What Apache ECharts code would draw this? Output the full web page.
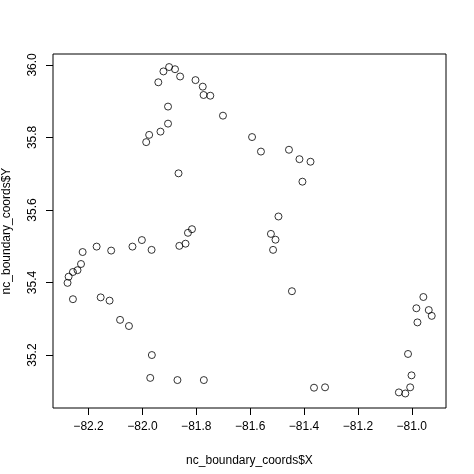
<!DOCTYPE html>
<html>
<head>
<meta charset="utf-8">
<script src="https://cdn.jsdelivr.net/npm/echarts@6/dist/echarts.min.js"></script>
<style>
  html, body { margin: 0; padding: 0; background: #fff; }
  #chart { width: 474px; height: 474px; }
</style>
</head>
<body>
<div id="chart"></div>
<script>
// boundary point coordinates
const xs = [
  -82.278, -82.274, -82.258, -82.241, -82.228, -82.222, -82.170, -82.116, -82.037, -82.002,
  -81.966, -81.863, -81.840, -81.831, -81.816, -82.258, -82.155, -82.122, -82.083, -82.050,
  -81.965, -81.971, -81.870, -81.772, -81.901, -81.922, -81.879, -81.860, -81.941, -81.803,
  -81.776, -81.773, -81.748, -81.905, -81.701, -81.905, -81.933, -81.975, -81.986, -81.866,
  -81.593, -81.560, -81.456, -81.417, -81.376, -81.406, -81.495, -81.523, -81.506, -81.515,
  -81.445, -81.363, -81.322, -80.957, -80.983, -80.937, -80.926, -80.979, -81.014, -81.001,
  -81.006, -81.024, -81.048
];
const ys = [
  35.399, 35.416, 35.429, 35.434, 35.451, 35.484, 35.499, 35.488, 35.499, 35.517,
  35.490, 35.501, 35.507, 35.537, 35.547, 35.354, 35.359, 35.350, 35.297, 35.280,
  35.200, 35.137, 35.131, 35.131, 35.994, 35.982, 35.988, 35.968, 35.952, 35.958,
  35.940, 35.917, 35.915, 35.885, 35.860, 35.838, 35.816, 35.807, 35.787, 35.701,
  35.801, 35.761, 35.766, 35.740, 35.733, 35.678, 35.582, 35.534, 35.518, 35.490,
  35.376, 35.110, 35.111, 35.360, 35.329, 35.324, 35.308, 35.290, 35.203, 35.144,
  35.111, 35.094, 35.097
];
const xTicks = [-82.2, -82.0, -81.8, -81.6, -81.4, -81.2, -81.0];
const yTicks = [35.2, 35.4, 35.6, 35.8, 36.0];

const font = 'Liberation Sans, Arial, sans-serif';
const chart = echarts.init(document.getElementById('chart'));
chart.setOption({
  animation: false,
  grid: { left: 53, right: 28, top: 54, bottom: 66, outerBoundsMode: 'none', containLabel: false,
    show: true, borderColor: '#000', borderWidth: 1, backgroundColor: 'transparent' },
  xAxis: {
    type: 'value', min: -82.332, max: -80.873,
    name: 'nc_boundary_coords$X', nameLocation: 'middle', nameGap: 47,
    nameTextStyle: { fontFamily: font, fontSize: 12, color: '#000' },
    splitLine: { show: false },
    axisLine: { show: false },
    axisTick: { show: true, length: 7, lineStyle: { color: '#000' }, customValues: xTicks },
    axisLabel: { fontFamily: font, fontSize: 12, color: '#000', margin: 13, customValues: xTicks,
      formatter: v => (v < 0 ? '\u2212' : '') + Math.abs(v).toFixed(1) }
  },
  yAxis: {
    type: 'value', min: 35.054, max: 36.03,
    name: 'nc_boundary_coords$Y', nameLocation: 'middle', nameGap: 40,
    nameTextStyle: { fontFamily: font, fontSize: 12, color: '#000' },
    splitLine: { show: false },
    axisLine: { show: false },
    axisTick: { show: true, length: 7, lineStyle: { color: '#000' }, customValues: yTicks },
    axisLabel: { fontFamily: font, fontSize: 12, color: '#000', rotate: 90, margin: 14, customValues: yTicks,
      formatter: v => v.toFixed(1) }
  },
  series: [{
    type: 'scatter',
    data: xs.map((x, i) => [x, ys[i]]),
    symbol: 'circle', symbolSize: 7,
    itemStyle: { color: 'rgba(255,255,255,0)', borderColor: '#000', borderWidth: 1 }
  }]
});
</script>
</body>
</html>
